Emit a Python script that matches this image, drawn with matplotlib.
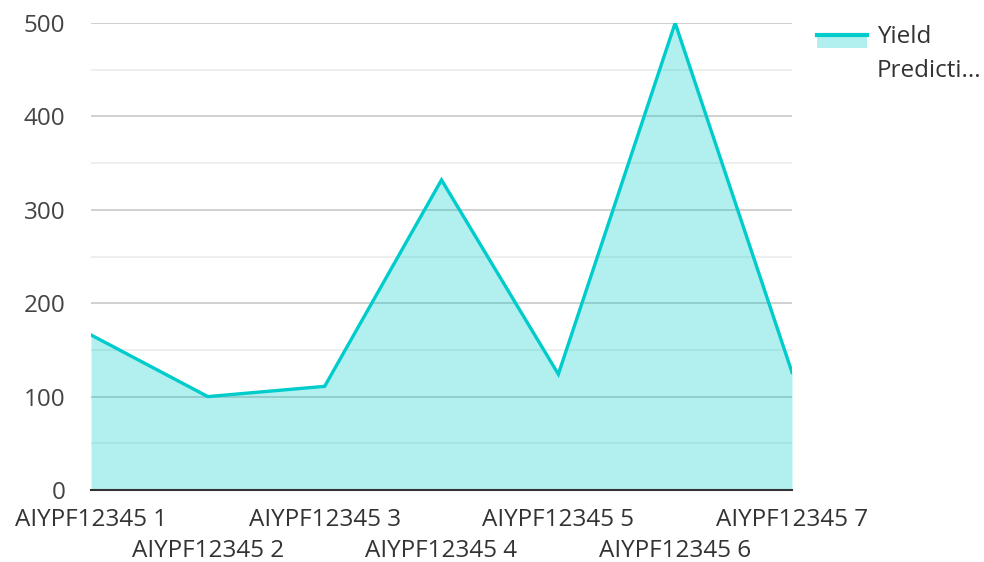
import matplotlib
matplotlib.use("Agg")
import matplotlib.pyplot as plt
from matplotlib.patches import Rectangle
from matplotlib.lines import Line2D

# dati del grafico
categorie = ["AIYPF12345 1", "AIYPF12345 2", "AIYPF12345 3", "AIYPF12345 4",
             "AIYPF12345 5", "AIYPF12345 6", "AIYPF12345 7"]
resa = [166, 100, 111, 332, 124, 500, 126]
nome_serie = ["Yield", "Predicti..."]

colore = "#00cccc"
fs = 17.5

plt.rcParams["font.family"] = ["Open Sans", "DejaVu Sans"]

fig = plt.figure(figsize=(9.84, 5.62), dpi=100)
ax = fig.add_axes([91 / 984, 1 - 490 / 562, (792 - 91) / 984, (490 - 23) / 562])

x = list(range(len(categorie)))
ax.fill_between(x, resa, 0, color=colore, alpha=0.3, zorder=3, lw=0)
ax.plot(x, resa, color=colore, lw=2.4, zorder=4, solid_joinstyle="miter")

ax.set_xlim(0, len(categorie) - 1)
ax.set_ylim(0, 500)
ax.set_yticks(range(0, 501, 100))
ax.set_yticks(range(50, 500, 100), minor=True)
ax.set_axisbelow(True)
ax.grid(True, which="major", axis="y", color="#c8c8c8", lw=1.2)
ax.grid(True, which="minor", axis="y", color="#ebebeb", lw=1.2)

for s in ["top", "right", "left"]:
    ax.spines[s].set_visible(False)
ax.spines["bottom"].set_color("#333333")
ax.spines["bottom"].set_linewidth(1.5)
ax.spines["bottom"].set_zorder(5)

ax.tick_params(axis="y", which="both", length=0, pad=18.5, labelsize=fs, labelcolor="#444444")
ax.tick_params(axis="x", length=0)
ax.set_xticks(x)
ax.set_xticklabels([])
for i, c in enumerate(categorie):
    dy = -0.064 if i % 2 == 0 else -0.13
    ax.text(i, dy, c, transform=ax.get_xaxis_transform(), ha="center", va="center",
            fontsize=fs, color="#333333")

# legenda
fig.add_artist(Rectangle((817 / 984, 1 - 48 / 562), 50 / 984, 13 / 562,
                         transform=fig.transFigure, color=colore, alpha=0.3, lw=0))
fig.add_artist(Line2D([817 / 984, 867 / 984], [1 - 35 / 562, 1 - 35 / 562],
                      transform=fig.transFigure, color=colore, lw=3))
fig.text(877 / 984, 1 - 37 / 562, nome_serie[0], fontsize=fs, color="#333333", va="center")
fig.text(877 / 984, 1 - 71 / 562, nome_serie[1], fontsize=fs, color="#333333", va="center")

plt.savefig("out.png", dpi=100)
